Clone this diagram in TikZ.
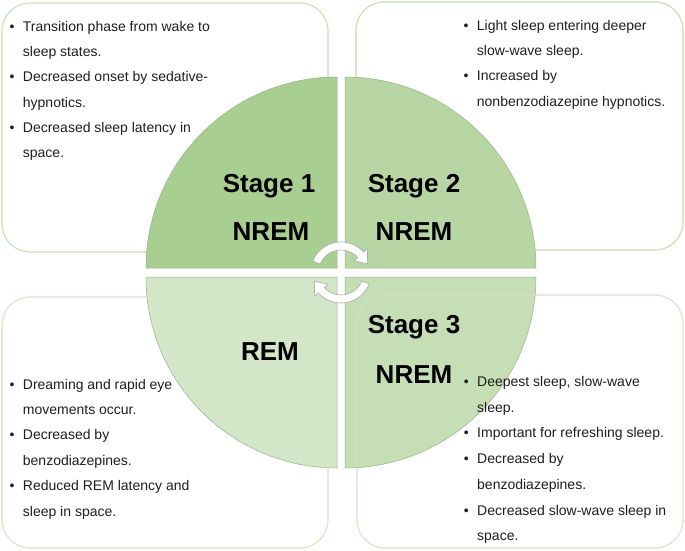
\documentclass[tikz,border=0pt]{standalone}
\usepackage{fontspec}
\setmainfont{Liberation Sans}
\definecolor{qtl}{RGB}{169,206,145}
\definecolor{qtr}{RGB}{184,214,163}
\definecolor{qbr}{RGB}{198,222,181}
\definecolor{qbl}{RGB}{212,230,200}
\definecolor{boxtop}{RGB}{197,224,180}
\definecolor{boxbot}{RGB}{214,233,203}
\definecolor{quadline}{RGB}{150,178,130}
\definecolor{arrowline}{RGB}{165,170,165}
\definecolor{textc}{RGB}{30,30,30}
\newcommand\bitem{\makebox[13.4pt][l]{•}}
\newcommand\bcont{\hspace*{13.4pt}}
\begin{document}
\begin{tikzpicture}[x=1pt,y=-1pt,
  boxframe/.style={line width=1.1pt, rounded corners=28pt},
  quad/.style={draw=quadline, line width=0.5pt},
  stagelabel/.style={font=\fontsize{26}{30}\selectfont\bfseries, anchor=base, inner sep=0pt, text=black},
  bullets/.style={font=\fontsize{14}{#1}\selectfont, align=left, anchor=north west, inner sep=0pt, text=textc},
  cyc/.style={fill=white, draw=arrowline, line width=0.6pt, line join=round}]
\useasboundingbox (0,0) rectangle (685,550);
% boxes
\draw[boxframe, draw=boxtop] (2,3) rectangle (328,252);
\draw[boxframe, draw=boxtop] (356,2) rectangle (683,250);
\draw[boxframe, draw=boxbot] (2,297) rectangle (328,548);
\draw[boxframe, draw=boxbot] (357,295) rectangle (683,548);
% quadrants
\path[quad, fill=qtl] (337,268) -- (146,268) arc[start angle=180, end angle=270, radius=191] -- cycle;
\path[quad, fill=qtr] (345,268) -- (345,77) arc[start angle=270, end angle=360, radius=191] -- cycle;
\path[quad, fill=qbr] (345,277) -- (536,277) arc[start angle=0, end angle=90, radius=191] -- cycle;
\path[quad, fill=qbl] (337,277) -- (337,468) arc[start angle=90, end angle=180, radius=191] -- cycle;
% faint box borders seen through the lighter quadrants
\draw[boxframe, draw=boxtop, draw opacity=0.3] (356,2) rectangle (683,250);
\draw[boxframe, draw=boxbot, draw opacity=0.45] (2,297) rectangle (328,548);
\draw[boxframe, draw=boxbot, draw opacity=0.45] (357,295) rectangle (683,548);
% cycle arrows
\begin{scope}[shift={(341,272.5)}]
\draw[cyc] (202:30.5) arc[start angle=202, end angle=318, radius=30.5] -- (318:35.5) -- (342:28) -- (318:17.5) -- (318:22.5) arc[start angle=318, end angle=202, radius=22.5] -- cycle;
\draw[cyc] (22:30.5) arc[start angle=22, end angle=138, radius=30.5] -- (138:35.5) -- (162:28) -- (138:17.5) -- (138:22.5) arc[start angle=138, end angle=22, radius=22.5] -- cycle;
\end{scope}
% stage labels
\node[stagelabel] (s1a) at (269,192.7) {Stage 1};
\node[stagelabel] (s1b) at (271,240) {NREM};
\node[stagelabel] (s2a) at (414,192.7) {Stage 2};
\node[stagelabel] (s2b) at (414,240) {NREM};
\node[stagelabel] (rem) at (270,360) {REM};
\node[stagelabel] (s3a) at (414,333.3) {Stage 3};
\node[stagelabel] (s3b) at (414,383) {NREM};
% bullet texts
\node[bullets=25.3] (ttl) at (9.3,13.3) {\strut\bitem Transition phase from wake to\\
\bcont sleep states.\\
\bitem Decreased onset by sedative-\\
\bcont hypnotics.\\
\bitem Decreased sleep latency in\\
\bcont space.};
\node[bullets=25.3] (ttr) at (463.3,12.3) {\strut\bitem Light sleep entering deeper\\
\bcont slow-wave sleep.\\
\bitem Increased by\\
\bcont nonbenzodiazepine hypnotics.};
\node[bullets=25.4] (tbl) at (9.3,371.2) {\strut\bitem Dreaming and rapid eye\\
\bcont movements occur.\\
\bitem Decreased by\\
\bcont benzodiazepines.\\
\bitem Reduced REM latency and\\
\bcont sleep in space.};
\node[bullets=25.7] (tbr) at (463.6,368.3) {\strut\bitem Deepest sleep, slow-wave\\
\bcont sleep.\\
\bitem Important for refreshing sleep.\\
\bitem Decreased by\\
\bcont benzodiazepines.\\
\bitem Decreased slow-wave sleep in\\
\bcont space.};
\end{tikzpicture}
\end{document}
